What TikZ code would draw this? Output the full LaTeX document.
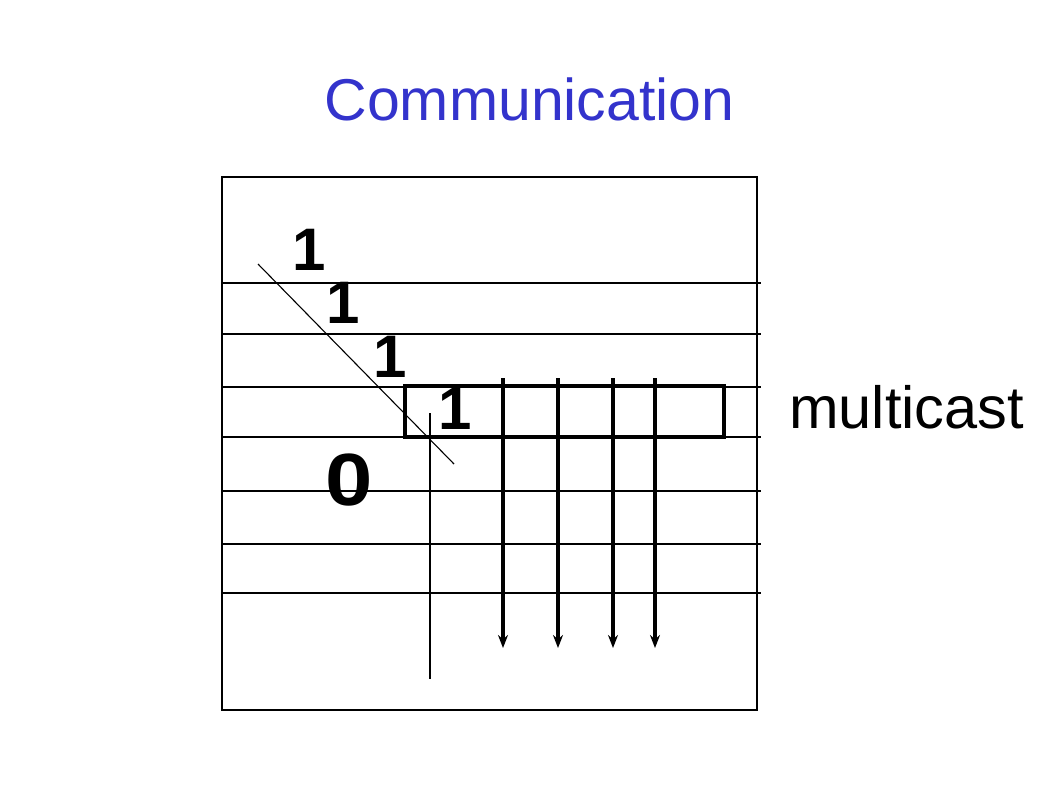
\documentclass[tikz,border=0pt]{standalone}
\usepackage{fontspec}
\setmainfont{Liberation Sans}
\usetikzlibrary{arrows.meta}
\definecolor{titleblue}{RGB}{51,51,204}
\tikzset{
  digit/.style={inner sep=0,font=\fontsize{60}{62}\selectfont\bfseries},
  grid line/.style={line width=1.6},
  fanout/.style={line width=3.4,-{Stealth[length=13,width=10]}}
}
\begin{document}
\begin{tikzpicture}[x=1pt,y=-1pt]
			\useasboundingbox (0,0) rectangle (1058,793);
			\node[anchor=base,inner sep=0,text=titleblue,font=\fontsize{59}{61}\selectfont] (title) at (529.5,120) {Communication};
			\draw [line width=1.6] (222,177) rectangle (757,710);
			\foreach \y in {283,334,387,437,491,544,593}
				\draw [grid line] (222,\y) -- (761,\y);
			\draw [line width=1.1] (258,264) -- (454,464);
			\draw [line width=1.4] (430,413) -- (430,679);
			\draw [line width=4] (405,386) rectangle (724,437);
			\foreach \x [count=\i] in {503,558,613,655} {
				\coordinate (src\i) at (\x,378);
				\coordinate (dst\i) at (\x,648);
				\draw [fanout] (src\i) -- (dst\i);
			}
			\node [digit] (one1) at (309.5,250) {1};
			\node [digit] (one2) at (343.5,303) {1};
			\node [digit] (one3) at (390.5,357) {1};
			\node [digit] (one4) at (455,408.5) {1};
			\node [digit,font=\fontsize{74}{76}\selectfont\bfseries] (zero) at (349,480) {\scalebox{1.15}[1]{0}};
			\node [anchor=base west,inner sep=0,font=\fontsize{59.5}{61}\selectfont] (multicast) at (789,428) {multicast};
		\end{tikzpicture}
\end{document}
